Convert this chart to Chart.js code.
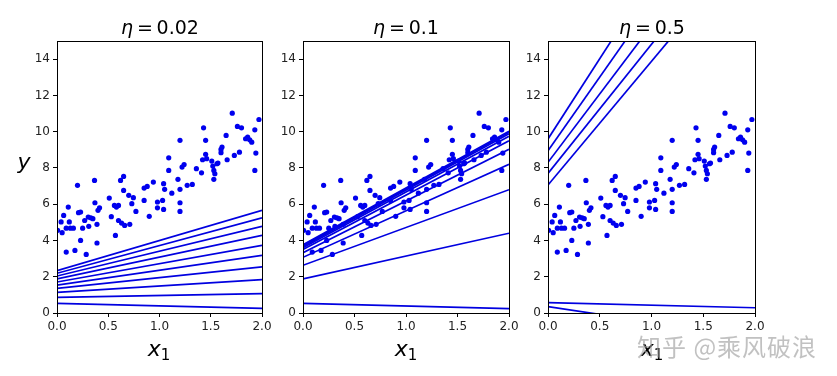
<!DOCTYPE html>
<html>
<head>
<meta charset="utf-8">
<script src="https://cdn.jsdelivr.net/npm/chart.js@4.4.0/dist/chart.umd.min.js"></script>
<style>
  body { margin: 0; background: #fff; }
  #wrap { position: relative; width: 837px; height: 376px; overflow: hidden; font-family: 'DejaVu Sans', sans-serif; }
  canvas { position: absolute; left: 0; top: 0; }
  .lbl { position: absolute; color: #000; white-space: nowrap; transform: translate(-50%, -50%); }
  .ttl { font-size: 19px; }
  .xl { font-size: 22px; }
  .xl sub { font-size: 15px; font-style: normal; vertical-align: -4px; line-height: 0; }
  .wm { position: absolute; left: 637px; top: 328px; font-size: 24px; letter-spacing: 1px; color: rgba(160,160,160,0.65);
        font-family: 'Noto Sans CJK SC', sans-serif; white-space: nowrap; }
</style>
</head>
<body>
<div id="wrap">
  <canvas id="c1" width="837" height="376"></canvas>
  <canvas id="c2" width="837" height="376"></canvas>
  <canvas id="c3" width="837" height="376"></canvas>
  <div class="lbl ttl" style="left:160px;top:27px"><i>η</i>&#8201;=&#8201;0.02</div>
  <div class="lbl ttl" style="left:406px;top:27px"><i>η</i>&#8201;=&#8201;0.1</div>
  <div class="lbl ttl" style="left:652px;top:27px"><i>η</i>&#8201;=&#8201;0.5</div>
  <div class="lbl xl" style="left:159px;top:348px"><i>x</i><sub>1</sub></div>
  <div class="lbl xl" style="left:406px;top:348px"><i>x</i><sub>1</sub></div>
  <div class="lbl xl" style="left:652px;top:348px"><i>x</i><sub>1</sub></div>
  <div class="lbl xl" style="left:24px;top:161px"><i>y</i></div>
  <div class="wm">知乎 @乘风破浪</div>
</div>
<script>
// data points
const xs = [0.006,0.05,0.04,0.065,0.09,0.09,0.11,0.12,0.13,0.16,0.175,0.2,0.21,0.23,0.23,0.25,0.27,0.285,0.305,0.31,
  0.33,0.35,0.366,0.37,0.39,0.39,0.4,0.415,0.51,0.53,0.56,0.57,0.58,0.6,0.6,0.62,0.63,0.65,0.65,0.66,
  0.7,0.71,0.73,0.745,0.77,0.85,0.85,0.88,0.9,0.94,0.98,0.98,1.03,1.04,1.04,1.05,1.09,1.09,1.12,1.18,
  1.2,1.2,1.2,1.2,1.22,1.24,1.27,1.32,1.36,1.41,1.42,1.43,1.45,1.45,1.46,1.51,1.52,1.53,1.53,1.54,
  1.56,1.57,1.6,1.61,1.6,1.65,1.66,1.71,1.73,1.76,1.78,1.8,1.84,1.86,1.88,1.9,1.93,1.93,1.94,1.97];
const ys = [4.56,4.43,5.02,5.38,4.68,3.36,5.84,5.02,4.68,4.68,3.45,7.04,5.53,5.57,4.0,4.68,5.1,3.23,5.29,4.78,
  5.25,5.2,7.31,6.08,4.89,3.86,5.66,5.8,6.34,5.31,5.93,4.28,5.84,5.93,5.1,7.31,4.96,7.53,6.76,4.83,
  6.49,4.89,6.03,6.36,5.6,6.21,6.89,6.98,5.33,7.22,6.12,5.8,6.21,7.13,5.71,6.82,8.56,7.86,6.61,7.37,
  9.52,6.82,6.08,5.6,8.05,8.19,7.04,7.09,7.96,7.73,8.45,10.21,9.52,8.75,8.51,8.38,8.1,7.86,7.37,7.68,
  8.23,8.27,9.02,9.15,8.84,9.79,8.45,11.02,8.69,10.29,8.87,10.21,9.61,9.7,9.55,9.42,10.1,7.86,8.82,10.67];

// prediction lines: value at x = 0 and at x = 2
const lineX = [0, 2];
const start002 = [0.53, 0.86, 1.14, 1.36, 1.54, 1.71, 1.88, 2.04, 2.19, 2.33];
const end002   = [0.26, 1.07, 1.84, 2.54, 3.18, 3.73, 4.28, 4.78, 5.25, 5.66];
const start01  = [0.53, 1.88, 2.63, 3.07, 3.33, 3.5, 3.6, 3.67, 3.72, 3.76];
const end01    = [0.24, 4.4, 6.8, 8.2, 9.03, 9.5, 9.75, 9.88, 9.97, 10.03];
const start05  = [0.57, 0.35, 7.06, 7.7, 8.31, 8.95, 9.6];
const end05    = [0.29, -1.36, 20.7, 21.94, 23.4, 25.2, 27.3];

const xTicks = [0, 0.5, 1.0, 1.5, 2.0];
const yTicks = [0, 2, 4, 6, 8, 10, 12, 14];

const boxPlugin = {
  id: 'box',
  afterDraw(chart) {
    const a = chart.chartArea, ctx = chart.ctx;
    ctx.save();
    ctx.strokeStyle = '#000';
    ctx.lineWidth = 1;
    ctx.strokeRect(Math.round(a.left) + 0.5, Math.round(a.top) + 0.5,
      Math.round(a.right - a.left), Math.round(a.bottom - a.top));
    ctx.restore();
  }
};

function makePanel(id, left, right, starts, ends) {
  const datasets = [{
    type: 'scatter',
    data: xs.map((x, i) => ({ x: x, y: ys[i] })),
    pointRadius: 2.6,
    pointBackgroundColor: '#0000ee',
    pointBorderWidth: 0
  }];
  starts.forEach((s, i) => {
    datasets.push({
      type: 'line',
      data: [{ x: lineX[0], y: s }, { x: lineX[1], y: ends[i] }],
      borderColor: '#0000e0',
      borderWidth: 1.7,
      pointRadius: 0,
      fill: false
    });
  });
  const tickFont = { family: 'DejaVu Sans', size: 12 };
  new Chart(document.getElementById(id), {
    type: 'scatter',
    data: { datasets: datasets },
    options: {
      responsive: false,
      animation: false,
      layout: { padding: { left: left - 30, right: 837 - right, top: 41, bottom: 38 } },
      plugins: { legend: { display: false }, tooltip: { enabled: false } },
      scales: {
        x: {
          type: 'linear', min: 0, max: 2,
          afterFit(s) { s.height = 25; },
          afterBuildTicks(s) { s.ticks = xTicks.map(v => ({ value: v })); },
          ticks: { font: tickFont, color: '#222', padding: 3, maxRotation: 0,
                   callback: v => v.toFixed(1) },
          grid: { drawOnChartArea: false, drawTicks: true, tickLength: 4, color: '#000' },
          border: { display: true, color: '#000', width: 1 }
        },
        y: {
          type: 'linear', min: 0, max: 15,
          afterFit(s) { s.width = 30; },
          afterBuildTicks(s) { s.ticks = yTicks.map(v => ({ value: v })); },
          ticks: { font: tickFont, color: '#222', padding: 3 },
          grid: { drawOnChartArea: false, drawTicks: true, tickLength: 4, color: '#000' },
          border: { display: true, color: '#000', width: 1 }
        }
      }
    },
    plugins: [boxPlugin]
  });
}

makePanel('c1', 57, 262, start002, end002);
makePanel('c2', 303, 509, start01, end01);
makePanel('c3', 548, 755, start05, end05);
</script>
</body>
</html>
